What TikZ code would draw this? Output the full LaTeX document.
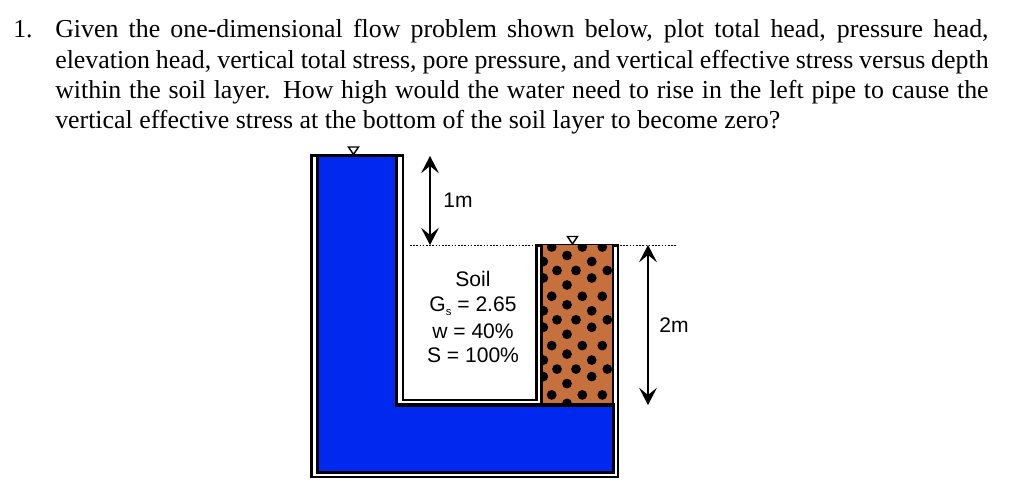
\documentclass[tikz,border=0pt]{standalone}
\usepackage{fontspec}
\setmainfont{Liberation Serif}
\newfontfamily\labelfont{Liberation Sans}
\usetikzlibrary{arrows.meta}
\definecolor{waterblue}{HTML}{0028EE}
\definecolor{soilbrown}{HTML}{C6703E}
\newcommand{\qline}[1]{\hbox to 700pt{#1}}
\tikzset{
  px/.style={x=0.75pt,y=-0.75pt},
  question/.style={anchor=base west,inner sep=0pt,font=\fontsize{19.4}{22.5}\selectfont},
  lbl/.style={inner sep=0pt,anchor=base,font=\labelfont\fontsize{15.8}{18}\selectfont},
  wall/.style={draw=black,line width=2.4pt,line join=miter},
  level/.style={draw=black,line width=1.1pt,fill=white,line join=miter},
  datum/.style={draw=black,line width=1pt,dash pattern=on 1.2pt off 1.2pt},
  dim/.style={draw=black,line width=0.9pt,{Stealth[length=13pt,width=13.5pt,inset=5.5pt]}-{Stealth[length=13pt,width=13.5pt,inset=5.5pt]}},
}
\begin{document}
\begin{tikzpicture}[px]
\useasboundingbox (0,0) rectangle (1024,491);
\fill[white] (0,0) rectangle (1024,491);
\node[question] (num) at (13,38) {1.};
\node[question] (q1) at (55,38) {\qline{Given the one-dimensional flow problem shown below, plot total head, pressure head,}};
\node[question] (q2) at (55,68.3) {\qline{elevation head, vertical total stress, pore pressure, and vertical effective stress versus depth}};
\node[question] (q3) at (55,98.5) {\qline{within the soil layer. How high would the water need to rise in the left pipe to cause the}};
\node[question] (q4) at (55,128.5) {vertical effective stress at the bottom of the soil layer to become zero?};
% outer pipe wall
\draw[wall,line width=2.2pt] (311.5,155.5) -- (311.5,477) -- (618,477) -- (618,245.5) -- (536.5,245.5) -- (536.5,400) -- (403,400) -- (403,155.5) -- cycle;
% soil
\fill[soilbrown] (542,245.5) rectangle (613,405);
\begin{scope}
\clip (543,245.5) rectangle (612,404);
\foreach \k in {0,...,3}{
  \begin{scope}[yshift={\k*(-49.3*0.75pt)}]
  \foreach \a/\b in {551.7/247,582.3/247,602.3/247,567/255.5,591.7/261.5,543.3/261.5,557/270.5,576/270.5,607.3/270.5,591.7/278,543.3/278,567/285}{
    \fill[black] (\a,\b) circle[radius=4.9];
  }
  \end{scope}
}
\end{scope}
% water
\draw[wall,fill=waterblue] (317.5,155.5) -- (396.5,155.5) -- (396.5,405) -- (613.5,405) -- (613.5,472.7) -- (317.5,472.7) -- cycle;
\draw[wall] (541.5,245.5) -- (541.5,405);
\draw[wall,line width=1.2pt] (613,245.5) -- (613,405);
% datum
\coordinate (d1) at (410,245.5);
\coordinate (d2) at (535,245.5);
\coordinate (d3) at (620,245.5);
\coordinate (d4) at (677,245.5);
\draw[datum] (d1) -- (d2);
\draw[datum] (d3) -- (d4);
% water level marks
\draw[level] (348.5,147) -- (358.5,147) -- (353.5,154.5) -- cycle;
\draw[level] (567.5,236.5) -- (577.5,236.5) -- (572.5,244) -- cycle;
% dimensions
\coordinate (a1) at (430,156);
\coordinate (a2) at (430,245);
\coordinate (b1) at (648,245);
\coordinate (b2) at (648,405);
\draw[dim] (a1) -- (a2);
\draw[dim] (b1) -- (b2);
\node[lbl] (one) at (458,208) {1m};
\node[lbl] (two) at (674,333) {2m};
\node[lbl] (soil) at (473,287) {Soil};
\node[lbl] (gs) at (473,312) {G\raisebox{-3pt}{\fontsize{8.5}{9}\selectfont s} = 2.65};
\node[lbl] (w) at (473,338.5) {w = 40\%};
\node[lbl] (s) at (473,363) {S = 100\%};
\end{tikzpicture}
\end{document}
